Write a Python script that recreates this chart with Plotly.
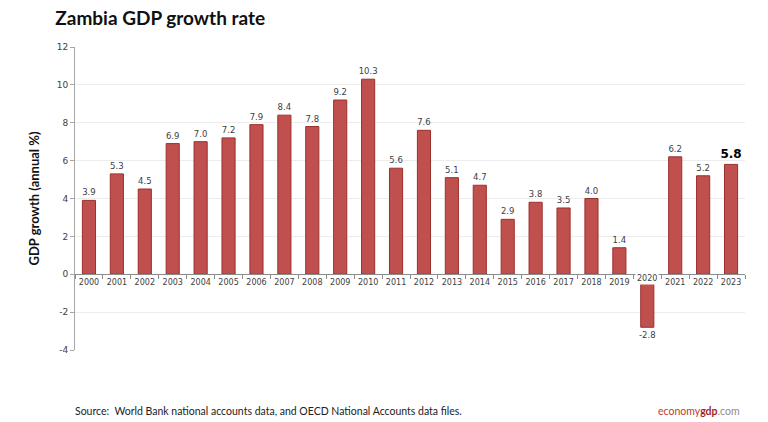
import plotly.graph_objects as go

years = [str(y) for y in range(2000, 2024)]
growth = [3.9, 5.3, 4.5, 6.9, 7.0, 7.2, 7.9, 8.4, 7.8, 9.2, 10.3, 5.6, 7.6, 5.1, 4.7,
          2.9, 3.8, 3.5, 4.0, 1.4, -2.8, 6.2, 5.2, 5.8]
y_ticks = [-4, -2, 0, 2, 4, 6, 8, 10, 12]

labels = [f"{v:.1f}" for v in growth]
label_text = labels[:-1] + [f"<b>{labels[-1]}</b>"]
label_sizes = [8.5] * (len(growth) - 1) + [12]
label_colors = ["#404040"] * (len(growth) - 1) + ["#000000"]

ymin, ymax = -4, 12
zero_pos = (0 - ymin) / (ymax - ymin)

fig = go.Figure()
fig.add_trace(go.Bar(
    x=years, y=growth,
    marker=dict(color="#c0504d", line=dict(color="#9b2f2c", width=1)),
    text=label_text, textposition="outside", constraintext="none",
    textfont=dict(family="DejaVu Sans", size=label_sizes, color=label_colors),
    cliponaxis=False,
    width=0.47,
))

ticktext = [("" if y == "2020" else y) for y in years]

fig.update_layout(
    width=768, height=422,
    margin=dict(l=75, r=23, t=47, b=72),
    paper_bgcolor="white", plot_bgcolor="white",
    showlegend=False,
    title=dict(text="<b>Zambia GDP growth rate</b>", x=0.072, xanchor="left",
               y=0.957, yanchor="middle",
               font=dict(family="Lato", size=19, color="#111111")),
    xaxis=dict(type="category", tickvals=years, ticktext=ticktext, tickangle=0,
               anchor="free", position=zero_pos,
               showline=True, linecolor="#8c8c8c", linewidth=1,
               ticks="outside", tickson="boundaries", ticklen=4, tickcolor="#8c8c8c",
               tickfont=dict(family="DejaVu Sans", size=8, color="#404040"),
               showgrid=False, range=[-0.5, 23.5]),
    yaxis=dict(range=[ymin, ymax], tickvals=y_ticks, ticktext=[str(v) for v in y_ticks],
               showline=True, linecolor="#a6a6a6",
               ticks="outside", ticklen=4, tickcolor="#a6a6a6",
               showgrid=True, gridcolor="#ececec", zeroline=False,
               tickfont=dict(family="DejaVu Sans", size=9, color="#404040"),
               title=dict(text="<b>GDP growth (annual %)</b>", standoff=14,
                          font=dict(family="Lato", size=13, color="#111111"))),
    bargap=0.53,
)

fig.add_annotation(x=years.index("2020"), xref="x", y=zero_pos, yref="paper", yshift=-11,
                   text="2020", showarrow=False, bgcolor="white", borderpad=1,
                   font=dict(family="DejaVu Sans", size=8, color="#404040"))

fig.add_annotation(xref="paper", yref="paper", x=-0.003, y=-0.2, xanchor="left", yanchor="middle",
                   text="Source:  World Bank national accounts data, and OECD National Accounts data files.",
                   showarrow=False, font=dict(family="Lato", size=10.5, color="#222222"))
fig.add_annotation(xref="paper", yref="paper", x=0.995, y=-0.2, xanchor="right", yanchor="middle",
                   text="<span style='color:#c0392b'>economy</span><b><span style='color:#a01e1e'>gdp</span></b><span style='color:#8c8c8c'>.com</span>",
                   showarrow=False, font=dict(family="Lato", size=10.5))

fig.write_html("out.html")
